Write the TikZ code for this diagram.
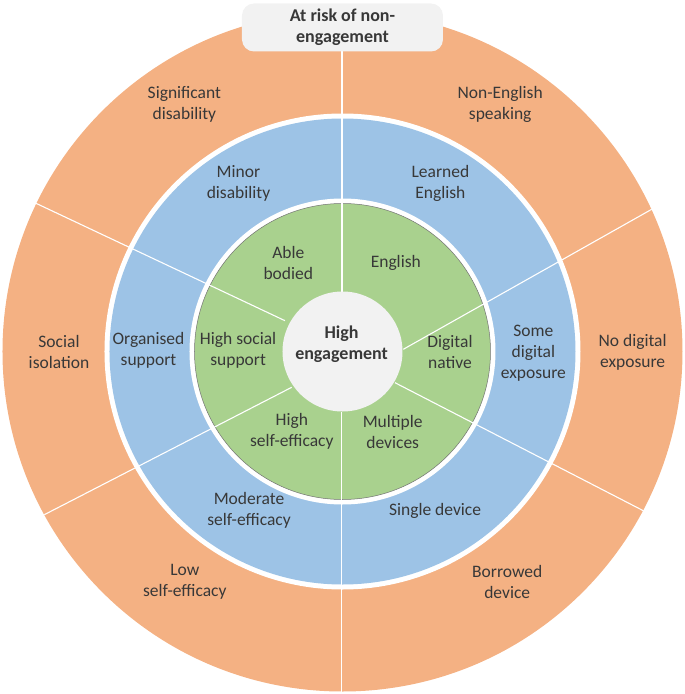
\documentclass[tikz,border=0pt]{standalone}
\usepackage{fontspec}
\setmainfont{Carlito}
\usetikzlibrary{positioning}
\definecolor{riskorange}{HTML}{F4B183}
\definecolor{midblue}{HTML}{9DC3E6}
\definecolor{highgreen}{HTML}{A9D18E}
\definecolor{coregrey}{HTML}{F2F2F2}
\definecolor{labelgrey}{HTML}{383838}

\begin{document}
\begin{tikzpicture}[
    x=1pt, y=1pt,
    lbl/.style={align=center, text=labelgrey, font=\fontsize{17.5}{21}\selectfont, inner sep=0pt},
    hdr/.style={lbl, font=\fontsize{18}{21}\selectfont\bfseries},
    divider/.style={white, line width=1.1pt}
]
\useasboundingbox (-342.5,-342.5) rectangle (342.5,351.5);

% rings, outside in
\fill[riskorange] (0,0) circle (340);
\fill[white] (0,0) circle (238);
\fill[midblue] (0,0) circle (233);
\fill[white] (0,0) circle (153);
\filldraw[fill=highgreen, draw=black!55, line width=0.5pt] (0,0) circle (148);

% sector dividers
\coordinate (topIn) at (-0.5,60);   \coordinate (topOut) at (-0.5,340);
\coordinate (urIn) at (60.8,2.2);   \coordinate (urOut) at (309.2,142.2);
\coordinate (lrIn) at (52.5,-31.2); \coordinate (lrOut) at (300.8,-159.2);
\coordinate (botIn) at (-1,-60);    \coordinate (botOut) at (-1,-340);
\coordinate (llIn) at (-50.8,-35.8); \coordinate (llOut) at (-298.2,-163.2);
\coordinate (ulIn) at (-57.5,30.8); \coordinate (ulOut) at (-306.5,148.2);
\foreach \a/\b in {topIn/topOut, urIn/urOut, lrIn/lrOut, botIn/botOut, llIn/llOut, ulIn/ulOut}
    \draw[divider] (\a) -- (\b);

\node[circle, fill=coregrey, minimum size=120pt, inner sep=0pt] (core) at (0,0) {};
\node[hdr] (highEng) at (-0.9,7.2) {High\\engagement};

% outer ring
\node[lbl] (sigDis) at (-158.1,247.1) {Significant\\disability};
\node[lbl] (nonEng) at (157.7,247.1) {Non-English\\speaking};
\node[lbl] (socIso) at (-283.5,-0.8) {Social\\isolation};
\node[lbl] (noDig) at (290.1,-0.8) {No digital\\exposure};
\node[lbl] (lowEff) at (-157.7,-230.5) {Low\\self-efficacy};
\node[lbl] (borDev) at (164.7,-230.5) {Borrowed\\device};

% middle ring
\node[lbl] (minDis) at (-104,168.2) {Minor\\disability};
\node[lbl] (lrnEng) at (97.9,168.2) {Learned\\English};
\node[lbl] (orgSup) at (-194,0.7) {Organised\\support};
\node[lbl] (someDig) at (190.9,-1.5) {Some\\digital\\exposure};
\node[lbl] (modEff) at (-93.5,-159.2) {Moderate\\self-efficacy};
\node[lbl] (sglDev) at (92.6,-159.6) {Single device};

% inner ring
\node[lbl] (ableBod) at (-54.2,88.7) {Able\\bodied};
\node[lbl] (english) at (53.3,88.1) {English};
\node[lbl] (highSoc) at (-104.4,0.7) {High social\\support};
\node[lbl] (digNat) at (107.5,-0.8) {Digital\\native};
\node[lbl] (highEff) at (-50.7,-79.5) {High\\self-efficacy};
\node[lbl] (multDev) at (50.2,-80.5) {Multiple\\devices};

\node[hdr, fill=coregrey, rounded corners=12pt, minimum width=201pt, minimum height=48pt] (risk) at (0,324) {At risk of non-\\engagement};

\end{tikzpicture}
\end{document}
